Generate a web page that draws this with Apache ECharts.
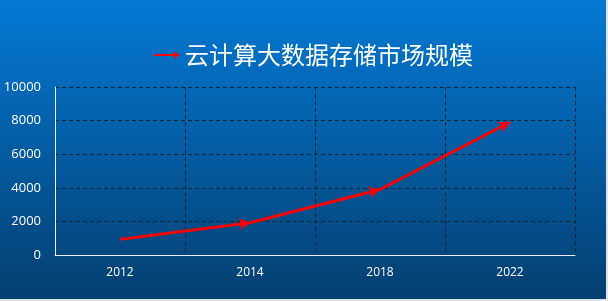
<!DOCTYPE html>
<html><head><meta charset="utf-8">
<script src="https://cdn.jsdelivr.net/npm/echarts@6/dist/echarts.min.js"></script>
<style>html,body{margin:0;padding:0;background:#e4e4e4;}#c{width:606px;height:299px;}</style>
</head><body><div id="c"></div>
<script>
var seriesName = '云计算大数据存储市场规模';
var categories = ['2012', '2014', '2018', '2022'];
var values = [930, 1920, 3900, 7900];
var yTicks = [0, 2000, 4000, 6000, 8000, 10000];

var chart = echarts.init(document.getElementById('c'));
var arrowIcon = 'path://M0,9 L40,9 L40,4 L52,11 L40,18 L40,13 L0,13 Z';
function buildOption(rotations) {
  return {
    backgroundColor: {type: 'linear', x: 0, y: 0, x2: 0, y2: 1,
      colorStops: [{offset: 0, color: '#0479d4'}, {offset: 1, color: '#043f70'}]},
    legend: {
      data: [seriesName], top: 38, left: 149, itemWidth: 26, itemHeight: 10, itemGap: 6,
      icon: arrowIcon,
      textStyle: {color: '#ffffff', fontSize: 24, fontFamily: 'Noto Sans CJK SC'}
    },
    grid: {left: 55, right: 31, top: 87, bottom: 44},
    xAxis: {
      type: 'category', data: categories, boundaryGap: true,
      axisLine: {lineStyle: {color: '#e8eef5', width: 1}},
      axisTick: {show: false},
      axisLabel: {color: '#ffffff', fontSize: 12, margin: 12, fontFamily: 'Open Sans'},
      splitLine: {show: true, lineStyle: {color: '#14263a', type: [4, 3], width: 1}}
    },
    yAxis: {
      type: 'value', min: yTicks[0], max: yTicks[yTicks.length - 1], interval: 2000,
      axisLine: {show: true, lineStyle: {color: '#e8eef5', width: 1}},
      axisTick: {show: false},
      axisLabel: {color: '#ffffff', fontSize: 13, margin: 14, fontFamily: 'Open Sans',
        formatter: function (v) { return String(v); }},
      splitLine: {show: true, lineStyle: {color: '#14263a', type: [4, 3], width: 1}}
    },
    series: [{
      name: seriesName, type: 'line', data: values.map(function (v, i) {
        return {value: v, symbol: i === 0 ? 'none' : 'arrow', symbolRotate: rotations[i] || 0};
      }),
      symbolSize: [9, 11], showSymbol: true, smooth: false,
      color: '#ff0000',
      lineStyle: {color: '#ff0000', width: 3},
      itemStyle: {color: '#ff0000'}
    }]
  };
}
chart.setOption(buildOption([0, 0, 0, 0]));
var px = values.map(function (v, i) { return chart.convertToPixel({seriesIndex: 0}, [i, v]); });
var rot = px.map(function (p, i) {
  if (i === 0) return 0;
  var q = px[i - 1];
  var ang = Math.atan2(q[1] - p[1], p[0] - q[0]) * 180 / Math.PI;
  return ang - 90;
});
chart.setOption(buildOption(rot));
</script></body></html>
